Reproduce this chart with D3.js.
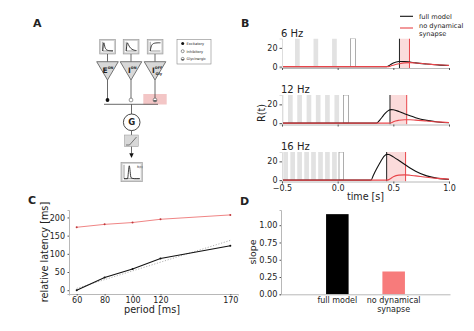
<!DOCTYPE html>
<html>
<head>
<meta charset="UTF-8">
<script src="https://d3js.org/d3.v7.min.js"></script>
<style>
body{margin:0;background:#fff;}
text{font-family:"DejaVu Sans",sans-serif;fill:#222;}
</style>
</head>
<body>
<svg id="fig"></svg>
<script>
// ---- panel B data: firing rate R(t) sampled on a common time grid
const tGrid  = [-0.5, 0.28, 0.30, 0.32, 0.35, 0.38, 0.40, 0.42, 0.44, 0.46, 0.48, 0.50, 0.55, 0.60, 0.65, 0.70, 0.80, 0.90, 1.00];
const full6  = [0, 0, 0, 0, 0, 0, 0, 0, 0, 1.0, 2.5, 3.8, 5.4, 5.5, 4.8, 4.0, 2.8, 1.8, 1.1];
const dyn6   = [0, 0, 0, 0, 0, 0, 0, 0, 0, 0, 0.8, 1.5, 3.0, 4.0, 4.2, 3.8, 2.8, 1.9, 1.3];
const full12 = [0, 0, 0, 0, 0, 3.5, 6.5, 9.5, 12, 13.8, 14.4, 14.2, 12.4, 10, 7.8, 5.8, 2.9, 1.2, 0.4];
const dyn12  = [0, 0, 0, 0, 0, 0, 0, 0, 0, 0, 0.3, 1.5, 3.0, 3.6, 3.6, 3.2, 2.2, 1.3, 0.7];
const full16 = [0, 0, 0, 5, 12, 18.5, 22.5, 25.8, 27.5, 27.3, 26.2, 24.8, 21, 17, 13, 9.5, 4.5, 1.8, 0.6];
const dyn16  = [0, 0, 0, 0, 0, 0, 0, 0, 0, 0.5, 2.0, 3.5, 5.3, 5.6, 5.2, 4.5, 3.0, 1.8, 1.0];
// stimulus onsets [s], last one is the probe (white)
const stim6  = [-0.383, -0.217, -0.05, 0.117];
const stim12 = [-0.529, -0.446, -0.363, -0.279, -0.196, -0.113, -0.029, 0.054];
const stim16 = [-0.488, -0.425, -0.363, -0.300, -0.238, -0.175, -0.113, -0.050, 0.012];
const stimDur = 0.042;
const peakFull  = [0.555, 0.47, 0.44];
const peakNoDyn = [0.645, 0.62, 0.61];
const freqLabels = ["6 Hz", "12 Hz", "16 Hz"];

// ---- panel C data
const periods   = [60, 80, 100, 120, 170];
const latFull   = [0, 35, 58, 87, 122];
const latNoDyn  = [173, 181, 186, 195, 207];
const fitPeriods = [60, 170];
const fitFull    = [5, 137];

// ---- panel D data
const models = ["full model", "no dynamical synapse"];
const slopes = [1.16, 0.33];

// ---- panel A icon kernels
const kernE   = [0, 1, 0.45, 0.2, 0.1, 0.06, 0.04, 0.03, 0.02, 0.02];
const kernI   = [0, 1, 0.75, 0.5, 0.33, 0.22, 0.15, 0.1, 0.07, 0.05];
const kernGly = [0, 0.6, 0.82, 0.92, 0.96, 0.98, 0.99, 1, 1, 1];
const kernOut = [0, 0, 0, 1, 0.08, 0.02, 0, 0, 0, 0];

const black = "#111", red = "#e8454a", redBar = "#f77b7b", spine = "#b8b8b8";

const svg = d3.select("#fig").attr("width", 474).attr("height", 331);
svg.append("rect").attr("width", 474).attr("height", 331).attr("fill", "#fff");

function panelLabel(x, y, t) {
  svg.append("text").attr("x", x).attr("y", y).attr("font-size", 11)
    .attr("font-weight", "bold").text(t);
}
panelLabel(33, 27, "A");
panelLabel(241, 27, "B");
panelLabel(28, 204, "C");
panelLabel(240, 205, "D");

function styleAxis(g, fs) {
  g.selectAll(".domain").attr("stroke", spine);
  g.selectAll(".tick line").attr("stroke", "#555");
  g.selectAll("text").attr("font-size", fs).attr("fill", "#222")
    .attr("font-family", "DejaVu Sans");
}

// ================= panel A (model diagram) =================
const A = svg.append("g");
const lineCol = "#444";
function icon(x, y, w, h, kern) {
  A.append("rect").attr("x", x).attr("y", y).attr("width", w).attr("height", h)
    .attr("fill", "#cfcfcf").attr("stroke", "#999").attr("stroke-width", 0.6);
  A.append("rect").attr("x", x + 1.6).attr("y", y + 1.6).attr("width", w - 3.2).attr("height", h - 3.2)
    .attr("fill", "#fff");
  const kx = d3.scaleLinear().domain([0, kern.length - 1]).range([x + 3, x + w - 2.5]);
  const ky = d3.scaleLinear().domain([0, 1]).range([y + h - 3, y + 3.5]);
  A.append("path").attr("d", `M${x + 3},${y + 2.5}V${y + h - 3}H${x + w - 2.5}`)
    .attr("fill", "none").attr("stroke", "#333").attr("stroke-width", 0.5);
  A.append("path").datum(kern)
    .attr("d", d3.line().x((d, i) => kx(i)).y(d => ky(d)).curve(d3.curveMonotoneX))
    .attr("fill", "none").attr("stroke", "#111").attr("stroke-width", 0.8);
}
const cols = [107.5, 131, 155];
const kerns = [kernE, kernI, kernGly];
// pink highlight behind glycinergic synapse
A.append("rect").attr("x", 143.3).attr("y", 94).attr("width", 23.4).attr("height", 10.5)
  .attr("fill", "#f3c6c6");
cols.forEach((cx, i) => {
  icon(cx - 7.8, 39.3, 15.8, 14.7, kerns[i]);
  A.append("line").attr("x1", cx).attr("x2", cx).attr("y1", 54).attr("y2", 61.7)
    .attr("stroke", lineCol).attr("stroke-width", 0.8);
  A.append("path").attr("d", `M${cx - 10.8},61.7H${cx + 10.8}L${cx},80Z`)
    .attr("fill", "#d8d8d8").attr("stroke", "#555").attr("stroke-width", 0.8);
  A.append("line").attr("x1", cx).attr("x2", cx).attr("y1", 80).attr("y2", 100)
    .attr("stroke", lineCol).attr("stroke-width", 0.8);
});
function triText(cx, main, sup, sub) {
  const t = A.append("text").attr("x", cx - 4).attr("y", 72.5).attr("font-size", 7.5)
    .attr("font-weight", "bold").attr("fill", "#111");
  t.append("tspan").text(main);
  t.append("tspan").attr("font-size", 3.4).attr("dy", -4).text(sup);
  if (sub) t.append("tspan").attr("font-size", 3.6).attr("x", cx - 0.5).attr("dy", 6.5).text(sub);
}
triText(cols[0] - 1, "E", "ON");
triText(cols[1] + 1, "I", "ON");
triText(cols[2] + 1, "I", "OFF", "Gly");
A.append("line").attr("x1", 104).attr("x2", 158).attr("y1", 104.3).attr("y2", 104.3)
  .attr("stroke", lineCol).attr("stroke-width", 0.8);
function synDot(x, y, type, r) {
  if (type === "exc") A.append("circle").attr("cx", x).attr("cy", y).attr("r", r).attr("fill", "#111");
  else if (type === "inh") A.append("circle").attr("cx", x).attr("cy", y).attr("r", r)
    .attr("fill", "#fff").attr("stroke", "#333").attr("stroke-width", 0.5);
  else {
    A.append("circle").attr("cx", x).attr("cy", y).attr("r", r)
      .attr("fill", "#fff").attr("stroke", "#333").attr("stroke-width", 0.5);
    A.append("path").attr("d", `M${x - r},${y}A${r},${r} 0 0 0 ${x + r},${y}Z`).attr("fill", "#666");
  }
}
synDot(cols[0], 100, "exc", 1.9);
synDot(cols[1], 100, "inh", 1.9);
synDot(cols[2], 100, "gly", 1.9);
A.append("line").attr("x1", 131.5).attr("x2", 131.5).attr("y1", 104.3).attr("y2", 114)
  .attr("stroke", lineCol).attr("stroke-width", 0.8);
A.append("circle").attr("cx", 131.7).attr("cy", 122.3).attr("r", 8.3)
  .attr("fill", "#fff").attr("stroke", "#333").attr("stroke-width", 0.9);
A.append("text").attr("x", 131.7).attr("y", 125.3).attr("text-anchor", "middle")
  .attr("font-size", 8.5).attr("font-weight", "bold").attr("fill", "#111").text("G");
A.append("line").attr("x1", 131.5).attr("x2", 131.5).attr("y1", 130.6).attr("y2", 135)
  .attr("stroke", lineCol).attr("stroke-width", 0.8);
// threshold-linear box
A.append("rect").attr("x", 124.3).attr("y", 135).attr("width", 14).attr("height", 11.7)
  .attr("fill", "#d8d8d8").attr("stroke", "#999").attr("stroke-width", 0.5);
A.append("path").attr("d", "M126,145H129.5L136.5,137")
  .attr("fill", "none").attr("stroke", "#333").attr("stroke-width", 0.6);
A.append("line").attr("x1", 131.5).attr("x2", 131.5).attr("y1", 146.7).attr("y2", 153.5)
  .attr("stroke", lineCol).attr("stroke-width", 0.8);
A.append("path").attr("d", "M129.3,153.3H133.7L131.5,158Z").attr("fill", "#111");
icon(121, 162.3, 21.3, 19.4, kernOut);
A.append("text").attr("x", 137).attr("y", 168).attr("font-size", 3).attr("fill", "#333").text("R(t)");
// legend
A.append("rect").attr("x", 177).attr("y", 39.5).attr("width", 34).attr("height", 24.5)
  .attr("fill", "#fff").attr("stroke", "#888").attr("stroke-width", 0.6);
[["exc", "Excitatory"], ["inh", "Inhibitory"], ["gly", "Glycinergic"]].forEach((e, i) => {
  synDot(182.7, 43.5 + i * 7.7, e[0], 1.5);
  A.append("text").attr("x", 186.5).attr("y", 44.8 + i * 7.7).attr("font-size", 3.5)
    .attr("fill", "#333").text(e[1]);
});

// ================= panel B =================
const xB = d3.scaleLinear().domain([-0.5, 1.0]).range([282, 449]);
const bTops = [38.5, 95, 152];
const rows = [
  {full: full6, dyn: dyn6, stim: stim6},
  {full: full12, dyn: dyn12, stim: stim12},
  {full: full16, dyn: dyn16, stim: stim16}
];
const defs = svg.append("defs");
rows.forEach((row, i) => {
  const top = bTops[i], h = 29.5;
  const yB = d3.scaleLinear().domain([-1.5, 30]).range([top + h, top]);
  defs.append("clipPath").attr("id", "clipB" + i).append("rect")
    .attr("x", xB(-0.5)).attr("y", top).attr("width", xB(1.0) - xB(-0.5)).attr("height", h);
  const g = svg.append("g").attr("clip-path", `url(#clipB${i})`);
  // stimulus bars
  g.selectAll(".stim").data(row.stim).enter().append("rect")
    .attr("x", d => xB(d)).attr("width", xB(stimDur) - xB(0))
    .attr("y", yB(30)).attr("height", yB(0) - yB(30))
    .attr("fill", (d, k) => k === row.stim.length - 1 ? "#fff" : "#e2e2e2")
    .attr("stroke", (d, k) => k === row.stim.length - 1 ? "#777" : "none")
    .attr("stroke-width", 0.6);
  // latency window
  g.append("rect").attr("x", xB(peakFull[i])).attr("width", xB(peakNoDyn[i]) - xB(peakFull[i]))
    .attr("y", top).attr("height", h).attr("fill", "rgba(240,110,110,0.25)");
  g.append("line").attr("x1", xB(peakFull[i])).attr("x2", xB(peakFull[i]))
    .attr("y1", top).attr("y2", top + h).attr("stroke", "#222").attr("stroke-width", 1);
  g.append("line").attr("x1", xB(peakNoDyn[i])).attr("x2", xB(peakNoDyn[i]))
    .attr("y1", top).attr("y2", top + h).attr("stroke", red).attr("stroke-width", 1);
  const line = d3.line().x((d, k) => xB(tGrid[k])).y(d => yB(d)).curve(d3.curveMonotoneX);
  g.append("path").datum(row.full).attr("d", line).attr("fill", "none")
    .attr("stroke", black).attr("stroke-width", 1.1);
  g.append("path").datum(row.dyn).attr("d", line).attr("fill", "none")
    .attr("stroke", red).attr("stroke-width", 1.1);
  // axes
  const ya = svg.append("g").attr("transform", `translate(${xB(-0.5)},0)`)
    .call(d3.axisLeft(yB).tickValues([0, 20]).tickSize(2.5).tickPadding(2));
  styleAxis(ya, 8);
  ya.select(".domain").attr("stroke", "#ddd");
  const xa = svg.append("g").attr("transform", `translate(0,${top + h})`)
    .call(d3.axisBottom(xB).tickValues([-0.5, 0, 0.5, 1.0]).tickSize(2).tickPadding(1.5)
      .tickFormat(i === 2 ? d3.format(".1f") : ""));
  styleAxis(xa, 8);
  svg.append("text").attr("x", 281).attr("y", top - 2).attr("font-size", 10).text(freqLabels[i]);
});
svg.append("text").attr("x", xB(0.25)).attr("y", 199.5).attr("text-anchor", "middle")
  .attr("font-size", 9.6).text("time [s]");
svg.append("text").attr("transform", "translate(265,113) rotate(-90)")
  .attr("text-anchor", "middle").attr("font-size", 9.6).text("R(t)");
// legend B
svg.append("line").attr("x1", 400).attr("x2", 413).attr("y1", 16.3).attr("y2", 16.3)
  .attr("stroke", black).attr("stroke-width", 1.1);
svg.append("text").attr("x", 419).attr("y", 18.5).attr("font-size", 6.6).text("full model");
svg.append("line").attr("x1", 400).attr("x2", 413).attr("y1", 28).attr("y2", 28)
  .attr("stroke", red).attr("stroke-width", 1.1);
svg.append("text").attr("x", 419).attr("y", 28).attr("font-size", 6.6).text("no dynamical");
svg.append("text").attr("x", 419).attr("y", 35.5).attr("font-size", 6.6).text("synapse");

// ================= panel C =================
const xC = d3.scaleLinear().domain([54.5, 175.5]).range([69, 238]);
const yC = d3.scaleLinear().domain([-10.5, 220.5]).range([294, 210]);
const lineC = d3.line().x((d, k) => xC(periods[k])).y(d => yC(d));
svg.append("path").datum(fitFull)
  .attr("d", d3.line().x((d, k) => xC(fitPeriods[k])).y(d => yC(d)))
  .attr("fill", "none").attr("stroke", "#aaa").attr("stroke-width", 0.9).attr("stroke-dasharray", "1.2,1.6");
svg.append("path").datum(latNoDyn).attr("d", lineC).attr("fill", "none")
  .attr("stroke", "#f08585").attr("stroke-width", 1);
svg.selectAll(".dotR").data(latNoDyn).enter().append("circle")
  .attr("cx", (d, k) => xC(periods[k])).attr("cy", d => yC(d)).attr("r", 1).attr("fill", "#c0393d");
svg.append("path").datum(latFull).attr("d", lineC).attr("fill", "none")
  .attr("stroke", black).attr("stroke-width", 1.1);
svg.selectAll(".dotK").data(latFull).enter().append("circle")
  .attr("cx", (d, k) => xC(periods[k])).attr("cy", d => yC(d)).attr("r", 1).attr("fill", black);
const cy = svg.append("g").attr("transform", "translate(69,0)")
  .call(d3.axisLeft(yC).tickValues([0, 50, 100, 150, 200]).tickSize(1.5).tickPadding(2.5));
styleAxis(cy, 8);
const cx = svg.append("g").attr("transform", "translate(0,294)")
  .call(d3.axisBottom(xC).tickValues(periods).tickSize(1.5).tickPadding(1.5));
styleAxis(cx, 8);
svg.append("text").attr("x", 152).attr("y", 313).attr("text-anchor", "middle")
  .attr("font-size", 9.7).text("period [ms]");
svg.append("text").attr("transform", "translate(48,252) rotate(-90)")
  .attr("text-anchor", "middle").attr("font-size", 9.7).text("relative latency [ms]");

// ================= panel D =================
const xD = d3.scaleLinear().domain([-1, 2]).range([281, 450]);
const yD = d3.scaleLinear().domain([0, 1.22]).range([294.3, 210]);
svg.selectAll(".bar").data(slopes).enter().append("rect")
  .attr("x", (d, k) => xD(k - 0.2)).attr("width", xD(0.4) - xD(0))
  .attr("y", d => yD(d)).attr("height", d => yD(0) - yD(d))
  .attr("fill", (d, k) => k === 0 ? "#000" : redBar);
const dy = svg.append("g").attr("transform", "translate(281,0)")
  .call(d3.axisLeft(yD).tickValues([0, 0.25, 0.5, 0.75, 1.0]).tickFormat(d3.format(".2f"))
    .tickSize(1.5).tickPadding(2));
styleAxis(dy, 8.2);
const dx = svg.append("g").attr("transform", "translate(0,294.3)")
  .call(d3.axisBottom(xD).tickValues([0, 1]).tickSize(0).tickPadding(3).tickFormat(""));
styleAxis(dx, 8);
models.forEach((m, k) => {
  const t = svg.append("text").attr("x", xD(k)).attr("y", 303).attr("text-anchor", "middle")
    .attr("font-size", 8);
  if (k === 0) t.text(m);
  else {
    t.append("tspan").attr("x", xD(k)).text("no dynamical");
    t.append("tspan").attr("x", xD(k)).attr("dy", 8.8).text("synapse");
  }
});
svg.append("text").attr("transform", "translate(256,252) rotate(-90)")
  .attr("text-anchor", "middle").attr("font-size", 9.4).text("slope");
</script>
</body>
</html>
